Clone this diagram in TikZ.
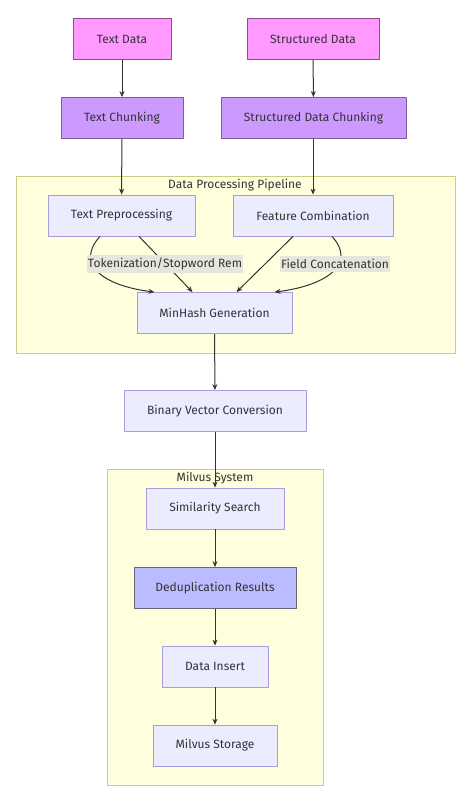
\documentclass[tikz,border=0pt]{standalone}
\usepackage{fontspec}
\setmainfont{Fira Sans}
\usetikzlibrary{arrows.meta}
\definecolor{txt}{HTML}{333333}
\definecolor{nodefill}{HTML}{ECECFF}
\definecolor{nodeline}{HTML}{A99BE0}
\definecolor{pinkfill}{HTML}{FF99FF}
\definecolor{pinkline}{HTML}{8E4E8E}
\definecolor{violetfill}{HTML}{CC99FF}
\definecolor{violetline}{HTML}{7B5C9C}
\definecolor{dedupfill}{HTML}{BBBBFF}
\definecolor{dedupline}{HTML}{666677}
\definecolor{clusterfill}{HTML}{FFFFDE}
\definecolor{clusterline}{HTML}{CCCC88}
\definecolor{labelbg}{HTML}{E6E6DC}
\begin{document}
\begin{tikzpicture}[x=1pt,y=-1pt,>={Stealth[length=6pt,width=5pt]},line join=round,font=\fontsize{12}{14}\selectfont,
  box/.style={draw=nodeline,fill=nodefill,text=txt,minimum height=41pt,inner sep=0pt,line width=0.8pt},
  src/.style={box,draw=pinkline,fill=pinkfill},
  chunk/.style={box,draw=violetline,fill=violetfill},
  result/.style={box,draw=dedupline,fill=dedupfill},
  cluster/.style={draw=clusterline,fill=clusterfill,line width=0.8pt},
  elabel/.style={fill=labelbg,text=txt,inner xsep=1pt,inner ysep=3pt},
  link/.style={->,draw=txt,line width=1pt}]
\useasboundingbox (0,0) rectangle (474,803);
\fill[white] (0,0) rectangle (474,803);
% clusters
\draw[cluster] (16,176) rectangle (455,353);
\node[text=txt] (pipeline) at (235,185) {Data Processing Pipeline};
\draw[cluster] (107,469) rectangle (323,785);
\node[text=txt] (milvus) at (215,478) {Milvus System};
% nodes
\node[src,minimum width=98pt] (tdata) at (122,39) {Text Data};
\node[src,minimum width=132pt] (sdata) at (313,39) {Structured Data};
\node[chunk,minimum width=122pt] (tchunk) at (122,118) {Text Chunking};
\node[chunk,minimum width=185pt] (schunk) at (313.5,118) {Structured Data Chunking};
\node[box,minimum width=147pt] (tprep) at (121.5,215.5) {Text Preprocessing};
\node[box,minimum width=160pt] (fcomb) at (313,215.5) {Feature Combination};
\node[box,minimum width=155pt] (minhash) at (214.5,313) {MinHash Generation};
\node[box,minimum width=182pt] (binvec) at (215,411) {Binary Vector Conversion};
\node[box,minimum width=138pt] (simsearch) at (215,508.5) {Similarity Search};
\node[result,minimum width=162pt] (dedup) at (215,588) {Deduplication Results};
\node[box,minimum width=106pt] (dinsert) at (215,666.5) {Data Insert};
\node[box,minimum width=124pt] (mstore) at (215,745.5) {Milvus Storage};
% edges
\draw[link] (tdata) -- (tchunk);
\draw[link] (sdata) -- (schunk);
\draw[link] (tchunk) -- (tprep);
\draw[link] (schunk.south -| fcomb.north) -- (fcomb);
\draw[link] ([xshift=-21.5pt]tprep.south) .. controls +(-24,26) and +(-55,-7) .. ([xshift=-60pt]minhash.north);
\draw[link] ([xshift=17.5pt]tprep.south) -- ([xshift=-22pt]minhash.north);
\draw[link] ([xshift=-20pt]fcomb.south) -- ([xshift=22pt]minhash.north);
\draw[link] ([xshift=19pt]fcomb.south) .. controls +(24,26) and +(55,-7) .. ([xshift=60pt]minhash.north);
\node[elabel] (toklabel) at (165,264) {Tokenization/Stopword Rem};
\node[elabel] (fieldlabel) at (335,264) {Field Concatenation};
\draw[link] (minhash) -- (binvec);
\draw[link] (binvec) -- (simsearch);
\draw[link] (simsearch) -- (dedup);
\draw[link] (dedup) -- (dinsert);
\draw[link] (dinsert) -- (mstore);
\end{tikzpicture}
\end{document}
